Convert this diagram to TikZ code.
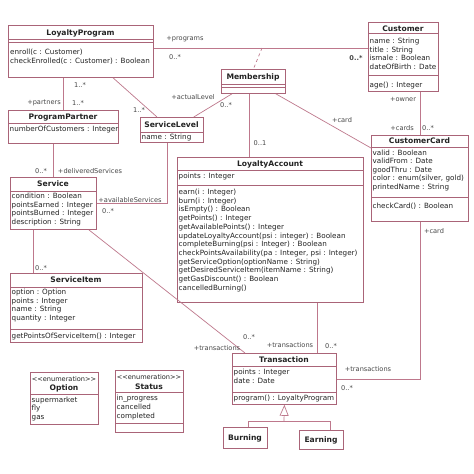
\documentclass[tikz,border=0pt]{standalone}
\usepackage{fontspec}
\setmainfont{DejaVu Sans}
\usetikzlibrary{arrows.meta}
\definecolor{lc}{RGB}{190,120,140}
\definecolor{bc}{RGB}{170,100,120}
\definecolor{tc}{RGB}{35,35,35}
\definecolor{gc}{RGB}{70,70,70}
\tikzset{
  box/.style={draw=bc, line width=0.8pt, fill=white, inner sep=0pt, anchor=north west},
  sepline/.style={draw=bc, line width=0.7pt},
  conn/.style={draw=lc, line width=0.7pt},
  txt/.style={font=\fontsize{7.2}{8}\selectfont, text=tc, inner sep=0pt, anchor=base west},
  ttl/.style={font=\fontsize{7.6}{9}\selectfont\bfseries, text=tc, inner sep=0pt, anchor=base},
  lbl/.style={font=\fontsize{6.6}{8}\selectfont, text=gc, inner sep=0pt},
  stereo/.style={font=\fontsize{6.6}{8}\selectfont, text=tc, inner sep=0pt, anchor=base},
}
\newcommand\umlbox[5]{\node[box, minimum width=#4pt, minimum height=#5pt] (#1) at (#2,#3) {};}
\newcommand\umlsep[2]{\draw[sepline] ([yshift=-#2pt]#1.north west) -- ([yshift=-#2pt]#1.north east);}
\newcommand\umllines[5]{\foreach \itm [count=\i] in {#5} {\node[txt] (#1\i) at (#2,{#3+(\i-1)*#4}) {\itm};}}
\begin{document}
\begin{tikzpicture}[x=1pt,y=-1pt]
\fill[white] (0,0) rectangle (474,474);
\useasboundingbox (0,0) rectangle (474,474);

% ---- boxes
\umlbox{lp}{8}{25}{145}{52}\umlsep{lp}{14}\umlsep{lp}{17}
\node[ttl] (lpt) at (80.5,35) {LoyaltyProgram};
\umllines{lpm}{10}{54.6}{8.8}{{enroll(c : Customer)},{checkEnrolled(c : Customer) : Boolean}}

\umlbox{cu}{368}{22}{70}{69}\umlsep{cu}{11}\umlsep{cu}{53}
\node[ttl] (cut) at (403,31.8) {Customer};
\umllines{cua}{369.5}{43.4}{8.6}{{name : String},{title : String},{ismale : Boolean},{dateOfBirth : Date}}
\umllines{cum}{369.5}{87.4}{8.6}{{age() : Integer}}

\umlbox{ms}{221}{69}{64}{24}\umlsep{ms}{15}\umlsep{ms}{18}
\node[ttl] (mst) at (253,79.8) {Membership};

\umlbox{pp}{8}{110}{110}{33}\umlsep{pp}{13}
\node[ttl] (ppt) at (63,119.8) {ProgramPartner};
\umllines{ppa}{9.5}{131.4}{8.6}{{numberOfCustomers : Integer}}

\umlbox{sl}{140}{117}{63}{25}\umlsep{sl}{15}
\node[ttl] (slt) at (171.5,127.8) {ServiceLevel};
\umllines{sla}{141.5}{139.2}{8.6}{{name : String}}

\umlbox{sv}{10}{177}{86}{52}\umlsep{sv}{14}
\node[ttl] (svt) at (53,186.8) {Service};
\umllines{sva}{11.5}{198.4}{8.7}{{condition : Boolean},{pointsEarned : Integer},{pointsBurned : Integer},{description : String}}

\umlbox{la}{177}{157}{186}{145}\umlsep{la}{13}\umlsep{la}{28}
\node[ttl] (lat) at (270,166.8) {LoyaltyAccount};
\umllines{laa}{178.5}{178.4}{8.7}{{points : Integer}}
\umllines{lam}{178.5}{194.4}{8.73}{{earn(i : Integer)},{burn(i : Integer)},{isEmpty() : Boolean},{getPoints() : Integer},{getAvailablePoints() : Integer},{updateLoyaltyAccount(psi : integer) : Boolean},{completeBurning(psi : Integer) : Boolean},{checkPointsAvailability(pa : Integer, psi : Integer)},{getServiceOption(optionName : String)},{getDesiredServiceItem(itemName : String)},{getGasDiscount() : Boolean},{cancelledBurning()}}

\umlbox{cc}{371}{135}{97}{86}\umlsep{cc}{12}\umlsep{cc}{62}
\node[ttl] (cct) at (419.5,143.8) {CustomerCard};
\umllines{cca}{372.5}{155.4}{8.5}{{valid : Boolean},{validFrom : Date},{goodThru : Date},{color : enum(silver, gold)},{printedName : String}}
\umllines{ccm}{372.5}{208.4}{8.5}{{checkCard() : Boolean}}

\umlbox{si}{10}{273}{132}{69}\umlsep{si}{14}\umlsep{si}{56}
\node[ttl] (sit) at (76,282.8) {ServiceItem};
\umllines{sia}{11.5}{294.4}{8.7}{{option : Option},{points : Integer},{name : String},{quantity : Integer}}
\umllines{sim}{11.5}{338.4}{8.7}{{getPointsOfServiceItem() : Integer}}

\umlbox{tr}{232}{353}{104}{51}\umlsep{tr}{13}\umlsep{tr}{39}
\node[ttl] (trt) at (284,362.8) {Transaction};
\umllines{tra}{233.5}{374.4}{9}{{points : Integer},{date : Date}}
\umllines{trm}{233.5}{400.4}{9}{{program() : LoyaltyProgram}}

\umlbox{bu}{223}{427}{44}{21}
\node[ttl] (but) at (245,440.2) {Burning};
\umlbox{ea}{299}{430}{44}{19}
\node[ttl] (eat) at (321,442.2) {Earning};

\umlbox{op}{30}{372}{68}{52}\umlsep{op}{22}
\node[stereo] (ops) at (64,381.4) {<\kern0pt<enumeration>\kern0pt>};
\node[ttl] (opt) at (64,390.8) {Option};
\umllines{opa}{31.5}{402.4}{8.5}{{supermarket},{fly},{gas}}

\umlbox{st}{115}{370}{68}{62}\umlsep{st}{22}\umlsep{st}{53}
\node[stereo] (sts) at (149,379.4) {<\kern0pt<enumeration>\kern0pt>};
\node[ttl] (stt) at (149,389.8) {Status};
\umllines{sta}{116.5}{400.4}{8.8}{{in\_progress},{cancelled},{completed}}

% ---- connectors
\coordinate (asc) at (262,48);
\draw[conn] (lp.east |- asc) -- (cu.west |- asc);
\draw[conn, dashed] (asc) -- (ms.north);
\node[lbl] (l1) at (185,39) {+programs};
\node[lbl] (l2) at (175,57) {0..*};
\node[lbl, font=\fontsize{6.6}{8}\selectfont\bfseries] (l3) at (356,58) {0..*};

\draw[conn] (pp.north |- lp.south) -- (pp.north);
\node[lbl] (l4) at (80,85) {1..*};
\node[lbl] (l5) at (44,103) {+partners};
\node[lbl] (l6) at (78,103) {1..*};

\draw[conn] ([xshift=105pt]lp.south west) -- ([xshift=17pt]sl.north west);
\node[lbl] (l7) at (139,110) {1..*};

\draw[conn] ([xshift=11pt]ms.south west) -- ([xshift=-10pt]sl.north east);
\node[lbl] (l8) at (193,97) {+actualLevel};
\node[lbl] (l9) at (226,105) {0..*};

\coordinate (m1) at ([xshift=28pt]ms.south west);
\draw[conn] (m1) -- (m1 |- la.north);
\node[lbl] (l10) at (260,143) {0..1};

\draw[conn] ([xshift=-10pt]ms.south east) -- ([yshift=-13pt]cc.north west);
\node[lbl] (l11) at (342,120) {+card};

\draw[conn] (cc.north |- cu.south) -- (cc.north);
\node[lbl] (l12) at (403,99) {+owner};
\node[lbl, anchor=east] (l13) at (414,128) {+cards};
\node[lbl] (l14) at (428,128) {0..*};

\draw[conn] (cc.south) |- (tr.east);
\node[lbl] (l15) at (434,231) {+card};
\node[lbl] (l16) at (368,369) {+transactions};
\node[lbl] (l17) at (347,388) {0..*};

\coordinate (t1) at ([xshift=-19pt]tr.north east);
\draw[conn] (t1 |- la.south) -- (t1);
\node[lbl] (l18) at (290,345) {+transactions};
\node[lbl] (l19) at (331,346) {0..*};

\draw[conn] ([xshift=-8pt]sv.south east) -- ([xshift=13pt]tr.north west);
\node[lbl] (l20) at (217,348) {+transactions};
\node[lbl] (l21) at (249,337) {0..*};

\draw[conn] (sv.north |- pp.south) -- (sv.north);
\node[lbl] (l22) at (41,171) {0..*};
\node[lbl] (l23) at (90,171) {+deliveredServices};

\coordinate (s1) at ([xshift=27pt]sl.south west);
\draw[conn] (s1) |- (sv.east);
\node[lbl] (l24) at (130,200) {+availableServices};
\node[lbl] (l25) at (108,211) {0..*};

\coordinate (s2) at ([xshift=23pt]sv.south west);
\draw[conn] (s2) -- (s2 |- si.north);
\node[lbl] (l26) at (41,268) {0..*};

\coordinate (gj) at (284,421);
\draw[conn] ([xshift=25pt]bu.north west) |- (gj);
\draw[conn] ([xshift=31pt]ea.north west) |- (gj);
\draw[conn, -{Triangle[open, width=9pt, length=11pt]}] (gj) -- (tr.south);
\end{tikzpicture}
\end{document}
